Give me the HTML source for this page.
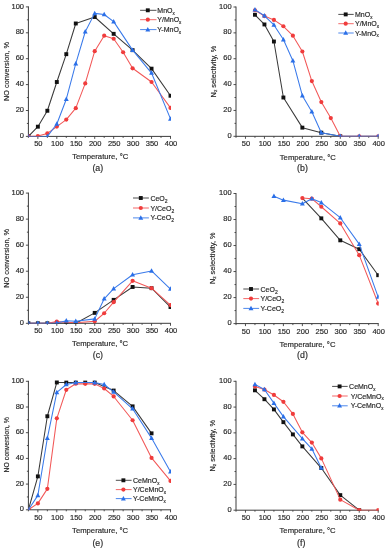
<!DOCTYPE html>
<html><head><meta charset="utf-8"><style>
html,body{margin:0;padding:0;background:#fff;}
svg{display:block;filter:blur(0.3px);}
text{stroke:#2b2b2b;stroke-width:0.18px;}
</style></head><body>
<svg width="387" height="550" viewBox="0 0 387 550" font-family='"Liberation Sans", sans-serif'>
<rect width="387" height="550" fill="#fff"/>
<path d="M28.4 6.4V136.4H171" fill="none" stroke="#3c3c3c" stroke-width="1"/>
<path d="M25.9 136.4H28.4" stroke="#3c3c3c" stroke-width="0.9"/>
<path d="M26.9 123.45H28.4" stroke="#3c3c3c" stroke-width="0.9"/>
<path d="M25.9 110.5H28.4" stroke="#3c3c3c" stroke-width="0.9"/>
<path d="M26.9 97.55H28.4" stroke="#3c3c3c" stroke-width="0.9"/>
<path d="M25.9 84.6H28.4" stroke="#3c3c3c" stroke-width="0.9"/>
<path d="M26.9 71.65H28.4" stroke="#3c3c3c" stroke-width="0.9"/>
<path d="M25.9 58.7H28.4" stroke="#3c3c3c" stroke-width="0.9"/>
<path d="M26.9 45.75H28.4" stroke="#3c3c3c" stroke-width="0.9"/>
<path d="M25.9 32.8H28.4" stroke="#3c3c3c" stroke-width="0.9"/>
<path d="M26.9 19.85H28.4" stroke="#3c3c3c" stroke-width="0.9"/>
<path d="M25.9 6.9H28.4" stroke="#3c3c3c" stroke-width="0.9"/>
<path d="M28.4 136.4V137.9" stroke="#3c3c3c" stroke-width="0.9"/>
<path d="M37.87 136.4V138.9" stroke="#3c3c3c" stroke-width="0.9"/>
<path d="M47.35 136.4V137.9" stroke="#3c3c3c" stroke-width="0.9"/>
<path d="M56.82 136.4V138.9" stroke="#3c3c3c" stroke-width="0.9"/>
<path d="M66.29 136.4V137.9" stroke="#3c3c3c" stroke-width="0.9"/>
<path d="M75.77 136.4V138.9" stroke="#3c3c3c" stroke-width="0.9"/>
<path d="M85.24 136.4V137.9" stroke="#3c3c3c" stroke-width="0.9"/>
<path d="M94.71 136.4V138.9" stroke="#3c3c3c" stroke-width="0.9"/>
<path d="M104.19 136.4V137.9" stroke="#3c3c3c" stroke-width="0.9"/>
<path d="M113.66 136.4V138.9" stroke="#3c3c3c" stroke-width="0.9"/>
<path d="M123.13 136.4V137.9" stroke="#3c3c3c" stroke-width="0.9"/>
<path d="M132.61 136.4V138.9" stroke="#3c3c3c" stroke-width="0.9"/>
<path d="M142.08 136.4V137.9" stroke="#3c3c3c" stroke-width="0.9"/>
<path d="M151.55 136.4V138.9" stroke="#3c3c3c" stroke-width="0.9"/>
<path d="M161.03 136.4V137.9" stroke="#3c3c3c" stroke-width="0.9"/>
<path d="M170.5 136.4V138.9" stroke="#3c3c3c" stroke-width="0.9"/>
<text x="24" y="138" font-size="7.5" text-anchor="end" fill="#2b2b2b">0</text>
<text x="24" y="112.1" font-size="7.5" text-anchor="end" fill="#2b2b2b">20</text>
<text x="24" y="86.2" font-size="7.5" text-anchor="end" fill="#2b2b2b">40</text>
<text x="24" y="60.3" font-size="7.5" text-anchor="end" fill="#2b2b2b">60</text>
<text x="24" y="34.4" font-size="7.5" text-anchor="end" fill="#2b2b2b">80</text>
<text x="24" y="8.5" font-size="7.5" text-anchor="end" fill="#2b2b2b">100</text>
<text x="38.37" y="146.3" font-size="7.5" text-anchor="middle" fill="#2b2b2b">50</text>
<text x="57.32" y="146.3" font-size="7.5" text-anchor="middle" fill="#2b2b2b">100</text>
<text x="76.27" y="146.3" font-size="7.5" text-anchor="middle" fill="#2b2b2b">150</text>
<text x="95.21" y="146.3" font-size="7.5" text-anchor="middle" fill="#2b2b2b">200</text>
<text x="114.16" y="146.3" font-size="7.5" text-anchor="middle" fill="#2b2b2b">250</text>
<text x="133.11" y="146.3" font-size="7.5" text-anchor="middle" fill="#2b2b2b">300</text>
<text x="152.05" y="146.3" font-size="7.5" text-anchor="middle" fill="#2b2b2b">350</text>
<text x="171" y="146.3" font-size="7.5" text-anchor="middle" fill="#2b2b2b">400</text>
<text x="100.25" y="159.1" font-size="7.7" text-anchor="middle" fill="#2b2b2b">Temperature, °C</text>
<text x="92.4" y="171.1" font-size="8.8" fill="#2b2b2b">(a)</text>
<text transform="translate(8.7 71.5) rotate(-90)" x="0" y="0" font-size="7.3" text-anchor="middle" fill="#2b2b2b">NO conversion, %</text>
<clipPath id="cpa"><rect x="28.4" y="-3.1" width="142.6" height="139.7"/></clipPath>
<g clip-path="url(#cpa)">
<path d="M28.4 136.4L37.87 126.69L47.35 110.76L56.82 82.01L66.29 54.17L75.77 23.48L94.71 17L113.66 33.84L132.61 50.15L151.55 68.67L170.5 95.74" fill="none" stroke="#3a3a3a" stroke-width="1.05" stroke-linejoin="round"/>
<rect x="26.45" y="134.45" width="3.9" height="3.9" fill="#111111"/>
<rect x="35.92" y="124.74" width="3.9" height="3.9" fill="#111111"/>
<rect x="45.4" y="108.81" width="3.9" height="3.9" fill="#111111"/>
<rect x="54.87" y="80.06" width="3.9" height="3.9" fill="#111111"/>
<rect x="64.34" y="52.22" width="3.9" height="3.9" fill="#111111"/>
<rect x="73.82" y="21.53" width="3.9" height="3.9" fill="#111111"/>
<rect x="92.76" y="15.05" width="3.9" height="3.9" fill="#111111"/>
<rect x="111.71" y="31.89" width="3.9" height="3.9" fill="#111111"/>
<rect x="130.66" y="48.2" width="3.9" height="3.9" fill="#111111"/>
<rect x="149.6" y="66.72" width="3.9" height="3.9" fill="#111111"/>
<rect x="168.55" y="93.79" width="3.9" height="3.9" fill="#111111"/>
<path d="M28.4 136.4L37.87 136.01L47.35 133.42L56.82 126.56L66.29 119.56L75.77 108.17L85.24 83.43L94.71 51.19L104.19 35.65L113.66 38.76L123.13 52.23L132.61 68.28L151.55 82.01L170.5 107.91" fill="none" stroke="#f25858" stroke-width="1.05" stroke-linejoin="round"/>
<circle cx="28.4" cy="136.4" r="2.1" fill="#f03c3c"/>
<circle cx="37.87" cy="136.01" r="2.1" fill="#f03c3c"/>
<circle cx="47.35" cy="133.42" r="2.1" fill="#f03c3c"/>
<circle cx="56.82" cy="126.56" r="2.1" fill="#f03c3c"/>
<circle cx="66.29" cy="119.56" r="2.1" fill="#f03c3c"/>
<circle cx="75.77" cy="108.17" r="2.1" fill="#f03c3c"/>
<circle cx="85.24" cy="83.43" r="2.1" fill="#f03c3c"/>
<circle cx="94.71" cy="51.19" r="2.1" fill="#f03c3c"/>
<circle cx="104.19" cy="35.65" r="2.1" fill="#f03c3c"/>
<circle cx="113.66" cy="38.76" r="2.1" fill="#f03c3c"/>
<circle cx="123.13" cy="52.23" r="2.1" fill="#f03c3c"/>
<circle cx="132.61" cy="68.28" r="2.1" fill="#f03c3c"/>
<circle cx="151.55" cy="82.01" r="2.1" fill="#f03c3c"/>
<circle cx="170.5" cy="107.91" r="2.1" fill="#f03c3c"/>
<path d="M28.4 136.4L47.35 136.4L56.82 123.97L66.29 99.23L75.77 63.62L85.24 31.76L94.71 13.38L104.19 14.54L113.66 21.66L132.61 50.15L151.55 73.07L170.5 118.92" fill="none" stroke="#3a7aea" stroke-width="1.05" stroke-linejoin="round"/>
<path d="M28.4 133.7L30.85 138.2L25.95 138.2Z" fill="#2a6fe8"/>
<path d="M47.35 133.7L49.8 138.2L44.9 138.2Z" fill="#2a6fe8"/>
<path d="M56.82 121.27L59.27 125.77L54.37 125.77Z" fill="#2a6fe8"/>
<path d="M66.29 96.53L68.74 101.03L63.84 101.03Z" fill="#2a6fe8"/>
<path d="M75.77 60.92L78.22 65.42L73.32 65.42Z" fill="#2a6fe8"/>
<path d="M85.24 29.06L87.69 33.56L82.79 33.56Z" fill="#2a6fe8"/>
<path d="M94.71 10.68L97.16 15.18L92.26 15.18Z" fill="#2a6fe8"/>
<path d="M104.19 11.84L106.64 16.34L101.74 16.34Z" fill="#2a6fe8"/>
<path d="M113.66 18.96L116.11 23.46L111.21 23.46Z" fill="#2a6fe8"/>
<path d="M132.61 47.45L135.06 51.95L130.16 51.95Z" fill="#2a6fe8"/>
<path d="M151.55 70.37L154 74.87L149.1 74.87Z" fill="#2a6fe8"/>
<path d="M170.5 116.22L172.95 120.72L168.05 120.72Z" fill="#2a6fe8"/>
</g>
<path d="M140.1 10.3H156.5" stroke="#3a3a3a" stroke-width="0.9"/>
<rect x="145.85" y="8.35" width="3.9" height="3.9" fill="#111111"/>
<text x="157.3" y="12.8" font-size="7.0" fill="#2b2b2b">MnO<tspan font-size="4.5" dy="1.8">x</tspan></text>
<path d="M140.1 19.7H156.5" stroke="#f25858" stroke-width="0.9"/>
<circle cx="147.8" cy="19.7" r="2.1" fill="#f03c3c"/>
<text x="157.3" y="22.2" font-size="7.0" fill="#2b2b2b">Y/MnO<tspan font-size="4.5" dy="1.8">x</tspan></text>
<path d="M140.1 29.6H156.5" stroke="#3a7aea" stroke-width="0.9"/>
<path d="M147.8 26.9L150.25 31.4L145.35 31.4Z" fill="#2a6fe8"/>
<text x="157.3" y="32.1" font-size="7.0" fill="#2b2b2b">Y-MnO<tspan font-size="4.5" dy="1.8">x</tspan></text>
<path d="M236 6.5V136.3H378.7" fill="none" stroke="#3c3c3c" stroke-width="1"/>
<path d="M233.5 136.3H236" stroke="#3c3c3c" stroke-width="0.9"/>
<path d="M234.5 123.37H236" stroke="#3c3c3c" stroke-width="0.9"/>
<path d="M233.5 110.44H236" stroke="#3c3c3c" stroke-width="0.9"/>
<path d="M234.5 97.51H236" stroke="#3c3c3c" stroke-width="0.9"/>
<path d="M233.5 84.58H236" stroke="#3c3c3c" stroke-width="0.9"/>
<path d="M234.5 71.65H236" stroke="#3c3c3c" stroke-width="0.9"/>
<path d="M233.5 58.72H236" stroke="#3c3c3c" stroke-width="0.9"/>
<path d="M234.5 45.79H236" stroke="#3c3c3c" stroke-width="0.9"/>
<path d="M233.5 32.86H236" stroke="#3c3c3c" stroke-width="0.9"/>
<path d="M234.5 19.93H236" stroke="#3c3c3c" stroke-width="0.9"/>
<path d="M233.5 7H236" stroke="#3c3c3c" stroke-width="0.9"/>
<path d="M236 136.3V137.8" stroke="#3c3c3c" stroke-width="0.9"/>
<path d="M245.48 136.3V138.8" stroke="#3c3c3c" stroke-width="0.9"/>
<path d="M254.96 136.3V137.8" stroke="#3c3c3c" stroke-width="0.9"/>
<path d="M264.44 136.3V138.8" stroke="#3c3c3c" stroke-width="0.9"/>
<path d="M273.92 136.3V137.8" stroke="#3c3c3c" stroke-width="0.9"/>
<path d="M283.4 136.3V138.8" stroke="#3c3c3c" stroke-width="0.9"/>
<path d="M292.88 136.3V137.8" stroke="#3c3c3c" stroke-width="0.9"/>
<path d="M302.36 136.3V138.8" stroke="#3c3c3c" stroke-width="0.9"/>
<path d="M311.84 136.3V137.8" stroke="#3c3c3c" stroke-width="0.9"/>
<path d="M321.32 136.3V138.8" stroke="#3c3c3c" stroke-width="0.9"/>
<path d="M330.8 136.3V137.8" stroke="#3c3c3c" stroke-width="0.9"/>
<path d="M340.28 136.3V138.8" stroke="#3c3c3c" stroke-width="0.9"/>
<path d="M349.76 136.3V137.8" stroke="#3c3c3c" stroke-width="0.9"/>
<path d="M359.24 136.3V138.8" stroke="#3c3c3c" stroke-width="0.9"/>
<path d="M368.72 136.3V137.8" stroke="#3c3c3c" stroke-width="0.9"/>
<path d="M378.2 136.3V138.8" stroke="#3c3c3c" stroke-width="0.9"/>
<text x="231.6" y="137.9" font-size="7.5" text-anchor="end" fill="#2b2b2b">0</text>
<text x="231.6" y="112.04" font-size="7.5" text-anchor="end" fill="#2b2b2b">20</text>
<text x="231.6" y="86.18" font-size="7.5" text-anchor="end" fill="#2b2b2b">40</text>
<text x="231.6" y="60.32" font-size="7.5" text-anchor="end" fill="#2b2b2b">60</text>
<text x="231.6" y="34.46" font-size="7.5" text-anchor="end" fill="#2b2b2b">80</text>
<text x="231.6" y="8.6" font-size="7.5" text-anchor="end" fill="#2b2b2b">100</text>
<text x="245.98" y="146.2" font-size="7.5" text-anchor="middle" fill="#2b2b2b">50</text>
<text x="264.94" y="146.2" font-size="7.5" text-anchor="middle" fill="#2b2b2b">100</text>
<text x="283.9" y="146.2" font-size="7.5" text-anchor="middle" fill="#2b2b2b">150</text>
<text x="302.86" y="146.2" font-size="7.5" text-anchor="middle" fill="#2b2b2b">200</text>
<text x="321.82" y="146.2" font-size="7.5" text-anchor="middle" fill="#2b2b2b">250</text>
<text x="340.78" y="146.2" font-size="7.5" text-anchor="middle" fill="#2b2b2b">300</text>
<text x="359.74" y="146.2" font-size="7.5" text-anchor="middle" fill="#2b2b2b">350</text>
<text x="378.7" y="146.2" font-size="7.5" text-anchor="middle" fill="#2b2b2b">400</text>
<text x="307.8" y="159.6" font-size="7.7" text-anchor="middle" fill="#2b2b2b">Temperature, °C</text>
<text x="297.1" y="171.4" font-size="8.8" fill="#2b2b2b">(b)</text>
<text transform="translate(216.3 71.6) rotate(-90)" x="0" y="0" font-size="7.35" text-anchor="middle" fill="#2b2b2b">N<tspan font-size="4.2" dy="0.4">2</tspan><tspan dy="-0.4"> selectivity, %</tspan></text>
<clipPath id="cpb"><rect x="236" y="-3" width="142.7" height="139.5"/></clipPath>
<g clip-path="url(#cpb)">
<path d="M254.96 14.76L264.44 24.46L273.92 41.52L283.4 97.51L302.36 127.64L321.32 132.68L340.28 136.3" fill="none" stroke="#3a3a3a" stroke-width="1.05" stroke-linejoin="round"/>
<rect x="253.01" y="12.81" width="3.9" height="3.9" fill="#111111"/>
<rect x="262.49" y="22.51" width="3.9" height="3.9" fill="#111111"/>
<rect x="271.97" y="39.57" width="3.9" height="3.9" fill="#111111"/>
<rect x="281.45" y="95.56" width="3.9" height="3.9" fill="#111111"/>
<rect x="300.41" y="125.69" width="3.9" height="3.9" fill="#111111"/>
<rect x="319.37" y="130.73" width="3.9" height="3.9" fill="#111111"/>
<rect x="338.33" y="134.35" width="3.9" height="3.9" fill="#111111"/>
<path d="M254.96 10.23L264.44 16.05L273.92 19.93L283.4 26.27L292.88 35.7L302.36 51.48L311.84 81.09L321.32 102.04L330.8 118.07L340.28 136.3L359.24 136.3L378.2 136.3" fill="none" stroke="#f25858" stroke-width="1.05" stroke-linejoin="round"/>
<circle cx="254.96" cy="10.23" r="2.1" fill="#f03c3c"/>
<circle cx="264.44" cy="16.05" r="2.1" fill="#f03c3c"/>
<circle cx="273.92" cy="19.93" r="2.1" fill="#f03c3c"/>
<circle cx="283.4" cy="26.27" r="2.1" fill="#f03c3c"/>
<circle cx="292.88" cy="35.7" r="2.1" fill="#f03c3c"/>
<circle cx="302.36" cy="51.48" r="2.1" fill="#f03c3c"/>
<circle cx="311.84" cy="81.09" r="2.1" fill="#f03c3c"/>
<circle cx="321.32" cy="102.04" r="2.1" fill="#f03c3c"/>
<circle cx="330.8" cy="118.07" r="2.1" fill="#f03c3c"/>
<circle cx="340.28" cy="136.3" r="2.1" fill="#f03c3c"/>
<circle cx="359.24" cy="136.3" r="2.1" fill="#f03c3c"/>
<circle cx="378.2" cy="136.3" r="2.1" fill="#f03c3c"/>
<path d="M254.96 9.59L264.44 15.79L273.92 24.97L283.4 39.58L292.88 60.66L302.36 95.7L311.84 111.73L321.32 132.68L340.28 136.3L359.24 136.3L378.2 136.3" fill="none" stroke="#3a7aea" stroke-width="1.05" stroke-linejoin="round"/>
<path d="M254.96 6.89L257.41 11.39L252.51 11.39Z" fill="#2a6fe8"/>
<path d="M264.44 13.09L266.89 17.59L261.99 17.59Z" fill="#2a6fe8"/>
<path d="M273.92 22.27L276.37 26.77L271.47 26.77Z" fill="#2a6fe8"/>
<path d="M283.4 36.88L285.85 41.38L280.95 41.38Z" fill="#2a6fe8"/>
<path d="M292.88 57.96L295.33 62.46L290.43 62.46Z" fill="#2a6fe8"/>
<path d="M302.36 93L304.81 97.5L299.91 97.5Z" fill="#2a6fe8"/>
<path d="M311.84 109.03L314.29 113.53L309.39 113.53Z" fill="#2a6fe8"/>
<path d="M321.32 129.98L323.77 134.48L318.87 134.48Z" fill="#2a6fe8"/>
<path d="M340.28 133.6L342.73 138.1L337.83 138.1Z" fill="#2a6fe8"/>
<path d="M359.24 133.6L361.69 138.1L356.79 138.1Z" fill="#2a6fe8"/>
<path d="M378.2 133.6L380.65 138.1L375.75 138.1Z" fill="#2a6fe8"/>
</g>
<path d="M338.3 14.4H353.7" stroke="#3a3a3a" stroke-width="0.9"/>
<rect x="343.75" y="12.45" width="3.9" height="3.9" fill="#111111"/>
<text x="355" y="16.9" font-size="7.0" fill="#2b2b2b">MnO<tspan font-size="4.5" dy="1.8">x</tspan></text>
<path d="M338.3 23.7H353.7" stroke="#f25858" stroke-width="0.9"/>
<circle cx="345.7" cy="23.7" r="2.1" fill="#f03c3c"/>
<text x="355" y="26.2" font-size="7.0" fill="#2b2b2b">Y/MnO<tspan font-size="4.5" dy="1.8">x</tspan></text>
<path d="M338.3 33H353.7" stroke="#3a7aea" stroke-width="0.9"/>
<path d="M345.7 30.3L348.15 34.8L343.25 34.8Z" fill="#2a6fe8"/>
<text x="355" y="35.5" font-size="7.0" fill="#2b2b2b">Y-MnO<tspan font-size="4.5" dy="1.8">x</tspan></text>
<path d="M28.4 192.6V323.3H171" fill="none" stroke="#3c3c3c" stroke-width="1"/>
<path d="M25.9 323.3H28.4" stroke="#3c3c3c" stroke-width="0.9"/>
<path d="M26.9 310.28H28.4" stroke="#3c3c3c" stroke-width="0.9"/>
<path d="M25.9 297.26H28.4" stroke="#3c3c3c" stroke-width="0.9"/>
<path d="M26.9 284.24H28.4" stroke="#3c3c3c" stroke-width="0.9"/>
<path d="M25.9 271.22H28.4" stroke="#3c3c3c" stroke-width="0.9"/>
<path d="M26.9 258.2H28.4" stroke="#3c3c3c" stroke-width="0.9"/>
<path d="M25.9 245.18H28.4" stroke="#3c3c3c" stroke-width="0.9"/>
<path d="M26.9 232.16H28.4" stroke="#3c3c3c" stroke-width="0.9"/>
<path d="M25.9 219.14H28.4" stroke="#3c3c3c" stroke-width="0.9"/>
<path d="M26.9 206.12H28.4" stroke="#3c3c3c" stroke-width="0.9"/>
<path d="M25.9 193.1H28.4" stroke="#3c3c3c" stroke-width="0.9"/>
<path d="M28.4 323.3V324.8" stroke="#3c3c3c" stroke-width="0.9"/>
<path d="M37.87 323.3V325.8" stroke="#3c3c3c" stroke-width="0.9"/>
<path d="M47.35 323.3V324.8" stroke="#3c3c3c" stroke-width="0.9"/>
<path d="M56.82 323.3V325.8" stroke="#3c3c3c" stroke-width="0.9"/>
<path d="M66.29 323.3V324.8" stroke="#3c3c3c" stroke-width="0.9"/>
<path d="M75.77 323.3V325.8" stroke="#3c3c3c" stroke-width="0.9"/>
<path d="M85.24 323.3V324.8" stroke="#3c3c3c" stroke-width="0.9"/>
<path d="M94.71 323.3V325.8" stroke="#3c3c3c" stroke-width="0.9"/>
<path d="M104.19 323.3V324.8" stroke="#3c3c3c" stroke-width="0.9"/>
<path d="M113.66 323.3V325.8" stroke="#3c3c3c" stroke-width="0.9"/>
<path d="M123.13 323.3V324.8" stroke="#3c3c3c" stroke-width="0.9"/>
<path d="M132.61 323.3V325.8" stroke="#3c3c3c" stroke-width="0.9"/>
<path d="M142.08 323.3V324.8" stroke="#3c3c3c" stroke-width="0.9"/>
<path d="M151.55 323.3V325.8" stroke="#3c3c3c" stroke-width="0.9"/>
<path d="M161.03 323.3V324.8" stroke="#3c3c3c" stroke-width="0.9"/>
<path d="M170.5 323.3V325.8" stroke="#3c3c3c" stroke-width="0.9"/>
<text x="24" y="324.9" font-size="7.5" text-anchor="end" fill="#2b2b2b">0</text>
<text x="24" y="298.86" font-size="7.5" text-anchor="end" fill="#2b2b2b">20</text>
<text x="24" y="272.82" font-size="7.5" text-anchor="end" fill="#2b2b2b">40</text>
<text x="24" y="246.78" font-size="7.5" text-anchor="end" fill="#2b2b2b">60</text>
<text x="24" y="220.74" font-size="7.5" text-anchor="end" fill="#2b2b2b">80</text>
<text x="24" y="194.7" font-size="7.5" text-anchor="end" fill="#2b2b2b">100</text>
<text x="38.37" y="333.2" font-size="7.5" text-anchor="middle" fill="#2b2b2b">50</text>
<text x="57.32" y="333.2" font-size="7.5" text-anchor="middle" fill="#2b2b2b">100</text>
<text x="76.27" y="333.2" font-size="7.5" text-anchor="middle" fill="#2b2b2b">150</text>
<text x="95.21" y="333.2" font-size="7.5" text-anchor="middle" fill="#2b2b2b">200</text>
<text x="114.16" y="333.2" font-size="7.5" text-anchor="middle" fill="#2b2b2b">250</text>
<text x="133.11" y="333.2" font-size="7.5" text-anchor="middle" fill="#2b2b2b">300</text>
<text x="152.05" y="333.2" font-size="7.5" text-anchor="middle" fill="#2b2b2b">350</text>
<text x="171" y="333.2" font-size="7.5" text-anchor="middle" fill="#2b2b2b">400</text>
<text x="100.1" y="346.2" font-size="7.7" text-anchor="middle" fill="#2b2b2b">Temperature, °C</text>
<text x="92.75" y="358.2" font-size="8.8" fill="#2b2b2b">(c)</text>
<text transform="translate(8.7 258.3) rotate(-90)" x="0" y="0" font-size="7.3" text-anchor="middle" fill="#2b2b2b">NO conversion, %</text>
<clipPath id="cpc"><rect x="28.4" y="183.1" width="142.6" height="140.4"/></clipPath>
<g clip-path="url(#cpc)">
<path d="M28.4 323.3L37.87 323.3L47.35 323.3L56.82 323.3L66.29 323.3L75.77 323.3L94.71 312.88L113.66 299.86L132.61 286.97L151.55 288.15L170.5 307.03" fill="none" stroke="#3a3a3a" stroke-width="1.05" stroke-linejoin="round"/>
<rect x="26.45" y="321.35" width="3.9" height="3.9" fill="#111111"/>
<rect x="35.92" y="321.35" width="3.9" height="3.9" fill="#111111"/>
<rect x="45.4" y="321.35" width="3.9" height="3.9" fill="#111111"/>
<rect x="54.87" y="321.35" width="3.9" height="3.9" fill="#111111"/>
<rect x="64.34" y="321.35" width="3.9" height="3.9" fill="#111111"/>
<rect x="73.82" y="321.35" width="3.9" height="3.9" fill="#111111"/>
<rect x="92.76" y="310.93" width="3.9" height="3.9" fill="#111111"/>
<rect x="111.71" y="297.91" width="3.9" height="3.9" fill="#111111"/>
<rect x="130.66" y="285.02" width="3.9" height="3.9" fill="#111111"/>
<rect x="149.6" y="286.2" width="3.9" height="3.9" fill="#111111"/>
<rect x="168.55" y="305.08" width="3.9" height="3.9" fill="#111111"/>
<path d="M28.4 323.3L37.87 323.3L47.35 323.3L56.82 321.61L66.29 322.26L75.77 322.65L94.71 321.35L104.19 313.27L113.66 302.21L132.61 280.85L151.55 288.15L170.5 305.07" fill="none" stroke="#f25858" stroke-width="1.05" stroke-linejoin="round"/>
<circle cx="56.82" cy="321.61" r="2.1" fill="#f03c3c"/>
<circle cx="94.71" cy="321.35" r="2.1" fill="#f03c3c"/>
<circle cx="104.19" cy="313.27" r="2.1" fill="#f03c3c"/>
<circle cx="113.66" cy="302.21" r="2.1" fill="#f03c3c"/>
<circle cx="132.61" cy="280.85" r="2.1" fill="#f03c3c"/>
<circle cx="151.55" cy="288.15" r="2.1" fill="#f03c3c"/>
<circle cx="170.5" cy="305.07" r="2.1" fill="#f03c3c"/>
<path d="M28.4 323.3L37.87 323.3L47.35 323.3L56.82 322.91L66.29 320.7L75.77 321.22L94.71 318.87L104.19 298.82L113.66 288.67L132.61 274.74L151.55 270.96L170.5 289.06" fill="none" stroke="#3a7aea" stroke-width="1.05" stroke-linejoin="round"/>
<path d="M28.4 320.6L30.85 325.1L25.95 325.1Z" fill="#2a6fe8"/>
<path d="M37.87 320.6L40.32 325.1L35.42 325.1Z" fill="#2a6fe8"/>
<path d="M47.35 320.6L49.8 325.1L44.9 325.1Z" fill="#2a6fe8"/>
<path d="M56.82 320.21L59.27 324.71L54.37 324.71Z" fill="#2a6fe8"/>
<path d="M66.29 318L68.74 322.5L63.84 322.5Z" fill="#2a6fe8"/>
<path d="M75.77 318.52L78.22 323.02L73.32 323.02Z" fill="#2a6fe8"/>
<path d="M94.71 316.17L97.16 320.67L92.26 320.67Z" fill="#2a6fe8"/>
<path d="M104.19 296.12L106.64 300.62L101.74 300.62Z" fill="#2a6fe8"/>
<path d="M113.66 285.97L116.11 290.47L111.21 290.47Z" fill="#2a6fe8"/>
<path d="M132.61 272.04L135.06 276.54L130.16 276.54Z" fill="#2a6fe8"/>
<path d="M151.55 268.26L154 272.76L149.1 272.76Z" fill="#2a6fe8"/>
<path d="M170.5 286.36L172.95 290.86L168.05 290.86Z" fill="#2a6fe8"/>
</g>
<path d="M133 198H148.9" stroke="#3a3a3a" stroke-width="0.9"/>
<rect x="138.85" y="196.05" width="3.9" height="3.9" fill="#111111"/>
<text x="150.4" y="200.5" font-size="7.0" fill="#2b2b2b">CeO<tspan font-size="5" dy="2">2</tspan></text>
<path d="M133 208H148.9" stroke="#f25858" stroke-width="0.9"/>
<circle cx="140.8" cy="208" r="2.1" fill="#f03c3c"/>
<text x="150.4" y="210.5" font-size="7.0" fill="#2b2b2b">Y/CeO<tspan font-size="5" dy="2">2</tspan></text>
<path d="M133 217.9H148.9" stroke="#3a7aea" stroke-width="0.9"/>
<path d="M140.8 215.2L143.25 219.7L138.35 219.7Z" fill="#2a6fe8"/>
<text x="150.4" y="220.4" font-size="7.0" fill="#2b2b2b">Y-CeO<tspan font-size="5" dy="2">2</tspan></text>
<path d="M236 193V323.6H378.7" fill="none" stroke="#3c3c3c" stroke-width="1"/>
<path d="M233.5 323.6H236" stroke="#3c3c3c" stroke-width="0.9"/>
<path d="M234.5 310.59H236" stroke="#3c3c3c" stroke-width="0.9"/>
<path d="M233.5 297.58H236" stroke="#3c3c3c" stroke-width="0.9"/>
<path d="M234.5 284.57H236" stroke="#3c3c3c" stroke-width="0.9"/>
<path d="M233.5 271.56H236" stroke="#3c3c3c" stroke-width="0.9"/>
<path d="M234.5 258.55H236" stroke="#3c3c3c" stroke-width="0.9"/>
<path d="M233.5 245.54H236" stroke="#3c3c3c" stroke-width="0.9"/>
<path d="M234.5 232.53H236" stroke="#3c3c3c" stroke-width="0.9"/>
<path d="M233.5 219.52H236" stroke="#3c3c3c" stroke-width="0.9"/>
<path d="M234.5 206.51H236" stroke="#3c3c3c" stroke-width="0.9"/>
<path d="M233.5 193.5H236" stroke="#3c3c3c" stroke-width="0.9"/>
<path d="M236 323.6V325.1" stroke="#3c3c3c" stroke-width="0.9"/>
<path d="M245.48 323.6V326.1" stroke="#3c3c3c" stroke-width="0.9"/>
<path d="M254.96 323.6V325.1" stroke="#3c3c3c" stroke-width="0.9"/>
<path d="M264.44 323.6V326.1" stroke="#3c3c3c" stroke-width="0.9"/>
<path d="M273.92 323.6V325.1" stroke="#3c3c3c" stroke-width="0.9"/>
<path d="M283.4 323.6V326.1" stroke="#3c3c3c" stroke-width="0.9"/>
<path d="M292.88 323.6V325.1" stroke="#3c3c3c" stroke-width="0.9"/>
<path d="M302.36 323.6V326.1" stroke="#3c3c3c" stroke-width="0.9"/>
<path d="M311.84 323.6V325.1" stroke="#3c3c3c" stroke-width="0.9"/>
<path d="M321.32 323.6V326.1" stroke="#3c3c3c" stroke-width="0.9"/>
<path d="M330.8 323.6V325.1" stroke="#3c3c3c" stroke-width="0.9"/>
<path d="M340.28 323.6V326.1" stroke="#3c3c3c" stroke-width="0.9"/>
<path d="M349.76 323.6V325.1" stroke="#3c3c3c" stroke-width="0.9"/>
<path d="M359.24 323.6V326.1" stroke="#3c3c3c" stroke-width="0.9"/>
<path d="M368.72 323.6V325.1" stroke="#3c3c3c" stroke-width="0.9"/>
<path d="M378.2 323.6V326.1" stroke="#3c3c3c" stroke-width="0.9"/>
<text x="231.6" y="325.2" font-size="7.5" text-anchor="end" fill="#2b2b2b">0</text>
<text x="231.6" y="299.18" font-size="7.5" text-anchor="end" fill="#2b2b2b">20</text>
<text x="231.6" y="273.16" font-size="7.5" text-anchor="end" fill="#2b2b2b">40</text>
<text x="231.6" y="247.14" font-size="7.5" text-anchor="end" fill="#2b2b2b">60</text>
<text x="231.6" y="221.12" font-size="7.5" text-anchor="end" fill="#2b2b2b">80</text>
<text x="231.6" y="195.1" font-size="7.5" text-anchor="end" fill="#2b2b2b">100</text>
<text x="245.98" y="333.5" font-size="7.5" text-anchor="middle" fill="#2b2b2b">50</text>
<text x="264.94" y="333.5" font-size="7.5" text-anchor="middle" fill="#2b2b2b">100</text>
<text x="283.9" y="333.5" font-size="7.5" text-anchor="middle" fill="#2b2b2b">150</text>
<text x="302.86" y="333.5" font-size="7.5" text-anchor="middle" fill="#2b2b2b">200</text>
<text x="321.82" y="333.5" font-size="7.5" text-anchor="middle" fill="#2b2b2b">250</text>
<text x="340.78" y="333.5" font-size="7.5" text-anchor="middle" fill="#2b2b2b">300</text>
<text x="359.74" y="333.5" font-size="7.5" text-anchor="middle" fill="#2b2b2b">350</text>
<text x="378.7" y="333.5" font-size="7.5" text-anchor="middle" fill="#2b2b2b">400</text>
<text x="307.45" y="346.5" font-size="7.7" text-anchor="middle" fill="#2b2b2b">Temperature, °C</text>
<text x="297.1" y="357.9" font-size="8.8" fill="#2b2b2b">(d)</text>
<text transform="translate(215.1 258.3) rotate(-90)" x="0" y="0" font-size="7.35" text-anchor="middle" fill="#2b2b2b">N<tspan font-size="4.2" dy="0.4">2</tspan><tspan dy="-0.4"> selectivity, %</tspan></text>
<clipPath id="cpd"><rect x="236" y="183.5" width="142.7" height="140.3"/></clipPath>
<g clip-path="url(#cpd)">
<path d="M302.36 198.05L321.32 218.35L340.28 240.34L359.24 249.18L378.2 275.2" fill="none" stroke="#3a3a3a" stroke-width="1.05" stroke-linejoin="round"/>
<rect x="319.37" y="216.4" width="3.9" height="3.9" fill="#111111"/>
<rect x="338.33" y="238.39" width="3.9" height="3.9" fill="#111111"/>
<rect x="357.29" y="247.23" width="3.9" height="3.9" fill="#111111"/>
<rect x="376.25" y="273.25" width="3.9" height="3.9" fill="#111111"/>
<path d="M302.36 198.05L311.84 198.7L321.32 206.77L340.28 223.42L359.24 255.17L378.2 303.56" fill="none" stroke="#f25858" stroke-width="1.05" stroke-linejoin="round"/>
<circle cx="302.36" cy="198.05" r="2.1" fill="#f03c3c"/>
<circle cx="311.84" cy="198.7" r="2.1" fill="#f03c3c"/>
<circle cx="321.32" cy="206.77" r="2.1" fill="#f03c3c"/>
<circle cx="340.28" cy="223.42" r="2.1" fill="#f03c3c"/>
<circle cx="359.24" cy="255.17" r="2.1" fill="#f03c3c"/>
<circle cx="378.2" cy="303.56" r="2.1" fill="#f03c3c"/>
<path d="M273.92 196.23L283.4 200.14L302.36 203.78L311.84 198.7L321.32 202.61L340.28 217.7L359.24 244.11L378.2 297.06" fill="none" stroke="#3a7aea" stroke-width="1.05" stroke-linejoin="round"/>
<path d="M273.92 193.53L276.37 198.03L271.47 198.03Z" fill="#2a6fe8"/>
<path d="M283.4 197.44L285.85 201.94L280.95 201.94Z" fill="#2a6fe8"/>
<path d="M302.36 201.08L304.81 205.58L299.91 205.58Z" fill="#2a6fe8"/>
<path d="M311.84 196L314.29 200.5L309.39 200.5Z" fill="#2a6fe8"/>
<path d="M321.32 199.91L323.77 204.41L318.87 204.41Z" fill="#2a6fe8"/>
<path d="M340.28 215L342.73 219.5L337.83 219.5Z" fill="#2a6fe8"/>
<path d="M359.24 241.41L361.69 245.91L356.79 245.91Z" fill="#2a6fe8"/>
<path d="M378.2 294.36L380.65 298.86L375.75 298.86Z" fill="#2a6fe8"/>
</g>
<path d="M243.3 289H259.1" stroke="#3a3a3a" stroke-width="0.9"/>
<rect x="249.05" y="287.05" width="3.9" height="3.9" fill="#111111"/>
<text x="260.5" y="291.5" font-size="7.0" fill="#2b2b2b">CeO<tspan font-size="5" dy="2">2</tspan></text>
<path d="M243.3 298.6H259.1" stroke="#f25858" stroke-width="0.9"/>
<circle cx="251" cy="298.6" r="2.1" fill="#f03c3c"/>
<text x="260.5" y="301.1" font-size="7.0" fill="#2b2b2b">Y/CeO<tspan font-size="5" dy="2">2</tspan></text>
<path d="M243.3 308.4H259.1" stroke="#3a7aea" stroke-width="0.9"/>
<path d="M251 305.7L253.45 310.2L248.55 310.2Z" fill="#2a6fe8"/>
<text x="260.5" y="310.9" font-size="7.0" fill="#2b2b2b">Y-CeO<tspan font-size="5" dy="2">2</tspan></text>
<path d="M28.4 380.8V509.8H171" fill="none" stroke="#3c3c3c" stroke-width="1"/>
<path d="M25.9 509.8H28.4" stroke="#3c3c3c" stroke-width="0.9"/>
<path d="M26.9 496.95H28.4" stroke="#3c3c3c" stroke-width="0.9"/>
<path d="M25.9 484.1H28.4" stroke="#3c3c3c" stroke-width="0.9"/>
<path d="M26.9 471.25H28.4" stroke="#3c3c3c" stroke-width="0.9"/>
<path d="M25.9 458.4H28.4" stroke="#3c3c3c" stroke-width="0.9"/>
<path d="M26.9 445.55H28.4" stroke="#3c3c3c" stroke-width="0.9"/>
<path d="M25.9 432.7H28.4" stroke="#3c3c3c" stroke-width="0.9"/>
<path d="M26.9 419.85H28.4" stroke="#3c3c3c" stroke-width="0.9"/>
<path d="M25.9 407H28.4" stroke="#3c3c3c" stroke-width="0.9"/>
<path d="M26.9 394.15H28.4" stroke="#3c3c3c" stroke-width="0.9"/>
<path d="M25.9 381.3H28.4" stroke="#3c3c3c" stroke-width="0.9"/>
<path d="M28.4 509.8V511.3" stroke="#3c3c3c" stroke-width="0.9"/>
<path d="M37.87 509.8V512.3" stroke="#3c3c3c" stroke-width="0.9"/>
<path d="M47.35 509.8V511.3" stroke="#3c3c3c" stroke-width="0.9"/>
<path d="M56.82 509.8V512.3" stroke="#3c3c3c" stroke-width="0.9"/>
<path d="M66.29 509.8V511.3" stroke="#3c3c3c" stroke-width="0.9"/>
<path d="M75.77 509.8V512.3" stroke="#3c3c3c" stroke-width="0.9"/>
<path d="M85.24 509.8V511.3" stroke="#3c3c3c" stroke-width="0.9"/>
<path d="M94.71 509.8V512.3" stroke="#3c3c3c" stroke-width="0.9"/>
<path d="M104.19 509.8V511.3" stroke="#3c3c3c" stroke-width="0.9"/>
<path d="M113.66 509.8V512.3" stroke="#3c3c3c" stroke-width="0.9"/>
<path d="M123.13 509.8V511.3" stroke="#3c3c3c" stroke-width="0.9"/>
<path d="M132.61 509.8V512.3" stroke="#3c3c3c" stroke-width="0.9"/>
<path d="M142.08 509.8V511.3" stroke="#3c3c3c" stroke-width="0.9"/>
<path d="M151.55 509.8V512.3" stroke="#3c3c3c" stroke-width="0.9"/>
<path d="M161.03 509.8V511.3" stroke="#3c3c3c" stroke-width="0.9"/>
<path d="M170.5 509.8V512.3" stroke="#3c3c3c" stroke-width="0.9"/>
<text x="24" y="511.4" font-size="7.5" text-anchor="end" fill="#2b2b2b">0</text>
<text x="24" y="485.7" font-size="7.5" text-anchor="end" fill="#2b2b2b">20</text>
<text x="24" y="460" font-size="7.5" text-anchor="end" fill="#2b2b2b">40</text>
<text x="24" y="434.3" font-size="7.5" text-anchor="end" fill="#2b2b2b">60</text>
<text x="24" y="408.6" font-size="7.5" text-anchor="end" fill="#2b2b2b">80</text>
<text x="24" y="382.9" font-size="7.5" text-anchor="end" fill="#2b2b2b">100</text>
<text x="38.37" y="519.7" font-size="7.5" text-anchor="middle" fill="#2b2b2b">50</text>
<text x="57.32" y="519.7" font-size="7.5" text-anchor="middle" fill="#2b2b2b">100</text>
<text x="76.27" y="519.7" font-size="7.5" text-anchor="middle" fill="#2b2b2b">150</text>
<text x="95.21" y="519.7" font-size="7.5" text-anchor="middle" fill="#2b2b2b">200</text>
<text x="114.16" y="519.7" font-size="7.5" text-anchor="middle" fill="#2b2b2b">250</text>
<text x="133.11" y="519.7" font-size="7.5" text-anchor="middle" fill="#2b2b2b">300</text>
<text x="152.05" y="519.7" font-size="7.5" text-anchor="middle" fill="#2b2b2b">350</text>
<text x="171" y="519.7" font-size="7.5" text-anchor="middle" fill="#2b2b2b">400</text>
<text x="100.1" y="533.4" font-size="7.7" text-anchor="middle" fill="#2b2b2b">Temperature, °C</text>
<text x="92.4" y="546.1" font-size="8.8" fill="#2b2b2b">(e)</text>
<text transform="translate(8.7 444.8) rotate(-90)" x="0" y="0" font-size="6.9" text-anchor="middle" fill="#2b2b2b">NO conversion, %</text>
<clipPath id="cpe"><rect x="28.4" y="371.3" width="142.6" height="138.7"/></clipPath>
<g clip-path="url(#cpe)">
<path d="M28.4 509.8L37.87 476.39L47.35 416.25L56.82 382.46L66.29 382.59L75.77 382.59L85.24 382.59L94.71 382.59L113.66 390.55L132.61 406.36L151.55 433.34" fill="none" stroke="#3a3a3a" stroke-width="1.05" stroke-linejoin="round"/>
<rect x="26.45" y="507.85" width="3.9" height="3.9" fill="#111111"/>
<rect x="35.92" y="474.44" width="3.9" height="3.9" fill="#111111"/>
<rect x="45.4" y="414.3" width="3.9" height="3.9" fill="#111111"/>
<rect x="54.87" y="380.51" width="3.9" height="3.9" fill="#111111"/>
<rect x="64.34" y="380.64" width="3.9" height="3.9" fill="#111111"/>
<rect x="73.82" y="380.64" width="3.9" height="3.9" fill="#111111"/>
<rect x="83.29" y="380.64" width="3.9" height="3.9" fill="#111111"/>
<rect x="92.76" y="380.64" width="3.9" height="3.9" fill="#111111"/>
<rect x="111.71" y="388.6" width="3.9" height="3.9" fill="#111111"/>
<rect x="130.66" y="404.41" width="3.9" height="3.9" fill="#111111"/>
<rect x="149.6" y="431.39" width="3.9" height="3.9" fill="#111111"/>
<path d="M28.4 509.8L37.87 503.38L47.35 488.85L56.82 418.31L66.29 389.78L75.77 383.74L85.24 383.87L94.71 383.87L104.19 388.5L113.66 396.46L132.61 420.24L151.55 457.89L170.5 480.89" fill="none" stroke="#f25858" stroke-width="1.05" stroke-linejoin="round"/>
<circle cx="28.4" cy="509.8" r="2.1" fill="#f03c3c"/>
<circle cx="37.87" cy="503.38" r="2.1" fill="#f03c3c"/>
<circle cx="47.35" cy="488.85" r="2.1" fill="#f03c3c"/>
<circle cx="56.82" cy="418.31" r="2.1" fill="#f03c3c"/>
<circle cx="66.29" cy="389.78" r="2.1" fill="#f03c3c"/>
<circle cx="75.77" cy="383.74" r="2.1" fill="#f03c3c"/>
<circle cx="85.24" cy="383.87" r="2.1" fill="#f03c3c"/>
<circle cx="94.71" cy="383.87" r="2.1" fill="#f03c3c"/>
<circle cx="104.19" cy="388.5" r="2.1" fill="#f03c3c"/>
<circle cx="113.66" cy="396.46" r="2.1" fill="#f03c3c"/>
<circle cx="132.61" cy="420.24" r="2.1" fill="#f03c3c"/>
<circle cx="151.55" cy="457.89" r="2.1" fill="#f03c3c"/>
<circle cx="170.5" cy="480.89" r="2.1" fill="#f03c3c"/>
<path d="M28.4 509.8L37.87 495.41L47.35 438.1L56.82 392.35L66.29 384.51L75.77 382.59L94.71 382.59L104.19 384.51L113.66 391.84L132.61 408.8L151.55 438.1L170.5 471.64" fill="none" stroke="#3a7aea" stroke-width="1.05" stroke-linejoin="round"/>
<path d="M28.4 507.1L30.85 511.6L25.95 511.6Z" fill="#2a6fe8"/>
<path d="M37.87 492.71L40.32 497.21L35.42 497.21Z" fill="#2a6fe8"/>
<path d="M47.35 435.4L49.8 439.9L44.9 439.9Z" fill="#2a6fe8"/>
<path d="M56.82 389.65L59.27 394.15L54.37 394.15Z" fill="#2a6fe8"/>
<path d="M66.29 381.81L68.74 386.31L63.84 386.31Z" fill="#2a6fe8"/>
<path d="M75.77 379.89L78.22 384.39L73.32 384.39Z" fill="#2a6fe8"/>
<path d="M94.71 379.89L97.16 384.39L92.26 384.39Z" fill="#2a6fe8"/>
<path d="M104.19 381.81L106.64 386.31L101.74 386.31Z" fill="#2a6fe8"/>
<path d="M113.66 389.14L116.11 393.64L111.21 393.64Z" fill="#2a6fe8"/>
<path d="M132.61 406.1L135.06 410.6L130.16 410.6Z" fill="#2a6fe8"/>
<path d="M151.55 435.4L154 439.9L149.1 439.9Z" fill="#2a6fe8"/>
<path d="M170.5 468.94L172.95 473.44L168.05 473.44Z" fill="#2a6fe8"/>
</g>
<path d="M115.8 480.3H131.6" stroke="#3a3a3a" stroke-width="0.9"/>
<rect x="121.45" y="478.35" width="3.9" height="3.9" fill="#111111"/>
<text x="133" y="482.8" font-size="7.0" fill="#2b2b2b">CeMnO<tspan font-size="4.5" dy="1.8">x</tspan></text>
<path d="M115.8 489.6H131.6" stroke="#f25858" stroke-width="0.9"/>
<circle cx="123.4" cy="489.6" r="2.1" fill="#f03c3c"/>
<text x="133" y="492.1" font-size="7.0" fill="#2b2b2b">Y/CeMnO<tspan font-size="4.5" dy="1.8">x</tspan></text>
<path d="M115.8 498.6H131.6" stroke="#3a7aea" stroke-width="0.9"/>
<path d="M123.4 495.9L125.85 500.4L120.95 500.4Z" fill="#2a6fe8"/>
<text x="133" y="501.1" font-size="7.0" fill="#2b2b2b">Y-CeMnO<tspan font-size="4.5" dy="1.8">x</tspan></text>
<path d="M236 380.8V510.2H378.7" fill="none" stroke="#3c3c3c" stroke-width="1"/>
<path d="M233.5 510.2H236" stroke="#3c3c3c" stroke-width="0.9"/>
<path d="M234.5 497.31H236" stroke="#3c3c3c" stroke-width="0.9"/>
<path d="M233.5 484.42H236" stroke="#3c3c3c" stroke-width="0.9"/>
<path d="M234.5 471.53H236" stroke="#3c3c3c" stroke-width="0.9"/>
<path d="M233.5 458.64H236" stroke="#3c3c3c" stroke-width="0.9"/>
<path d="M234.5 445.75H236" stroke="#3c3c3c" stroke-width="0.9"/>
<path d="M233.5 432.86H236" stroke="#3c3c3c" stroke-width="0.9"/>
<path d="M234.5 419.97H236" stroke="#3c3c3c" stroke-width="0.9"/>
<path d="M233.5 407.08H236" stroke="#3c3c3c" stroke-width="0.9"/>
<path d="M234.5 394.19H236" stroke="#3c3c3c" stroke-width="0.9"/>
<path d="M233.5 381.3H236" stroke="#3c3c3c" stroke-width="0.9"/>
<path d="M236 510.2V511.7" stroke="#3c3c3c" stroke-width="0.9"/>
<path d="M245.48 510.2V512.7" stroke="#3c3c3c" stroke-width="0.9"/>
<path d="M254.96 510.2V511.7" stroke="#3c3c3c" stroke-width="0.9"/>
<path d="M264.44 510.2V512.7" stroke="#3c3c3c" stroke-width="0.9"/>
<path d="M273.92 510.2V511.7" stroke="#3c3c3c" stroke-width="0.9"/>
<path d="M283.4 510.2V512.7" stroke="#3c3c3c" stroke-width="0.9"/>
<path d="M292.88 510.2V511.7" stroke="#3c3c3c" stroke-width="0.9"/>
<path d="M302.36 510.2V512.7" stroke="#3c3c3c" stroke-width="0.9"/>
<path d="M311.84 510.2V511.7" stroke="#3c3c3c" stroke-width="0.9"/>
<path d="M321.32 510.2V512.7" stroke="#3c3c3c" stroke-width="0.9"/>
<path d="M330.8 510.2V511.7" stroke="#3c3c3c" stroke-width="0.9"/>
<path d="M340.28 510.2V512.7" stroke="#3c3c3c" stroke-width="0.9"/>
<path d="M349.76 510.2V511.7" stroke="#3c3c3c" stroke-width="0.9"/>
<path d="M359.24 510.2V512.7" stroke="#3c3c3c" stroke-width="0.9"/>
<path d="M368.72 510.2V511.7" stroke="#3c3c3c" stroke-width="0.9"/>
<path d="M378.2 510.2V512.7" stroke="#3c3c3c" stroke-width="0.9"/>
<text x="231.6" y="511.8" font-size="7.5" text-anchor="end" fill="#2b2b2b">0</text>
<text x="231.6" y="486.02" font-size="7.5" text-anchor="end" fill="#2b2b2b">20</text>
<text x="231.6" y="460.24" font-size="7.5" text-anchor="end" fill="#2b2b2b">40</text>
<text x="231.6" y="434.46" font-size="7.5" text-anchor="end" fill="#2b2b2b">60</text>
<text x="231.6" y="408.68" font-size="7.5" text-anchor="end" fill="#2b2b2b">80</text>
<text x="231.6" y="382.9" font-size="7.5" text-anchor="end" fill="#2b2b2b">100</text>
<text x="245.98" y="520.1" font-size="7.5" text-anchor="middle" fill="#2b2b2b">50</text>
<text x="264.94" y="520.1" font-size="7.5" text-anchor="middle" fill="#2b2b2b">100</text>
<text x="283.9" y="520.1" font-size="7.5" text-anchor="middle" fill="#2b2b2b">150</text>
<text x="302.86" y="520.1" font-size="7.5" text-anchor="middle" fill="#2b2b2b">200</text>
<text x="321.82" y="520.1" font-size="7.5" text-anchor="middle" fill="#2b2b2b">250</text>
<text x="340.78" y="520.1" font-size="7.5" text-anchor="middle" fill="#2b2b2b">300</text>
<text x="359.74" y="520.1" font-size="7.5" text-anchor="middle" fill="#2b2b2b">350</text>
<text x="378.7" y="520.1" font-size="7.5" text-anchor="middle" fill="#2b2b2b">400</text>
<text x="307.55" y="533.3" font-size="7.7" text-anchor="middle" fill="#2b2b2b">Temperature, °C</text>
<text x="297.1" y="546" font-size="8.8" fill="#2b2b2b">(f)</text>
<text transform="translate(215.1 445.7) rotate(-90)" x="0" y="0" font-size="7.35" text-anchor="middle" fill="#2b2b2b">N<tspan font-size="4.2" dy="0.4">2</tspan><tspan dy="-0.4"> selectivity, %</tspan></text>
<clipPath id="cpf"><rect x="236" y="371.3" width="142.7" height="139.1"/></clipPath>
<g clip-path="url(#cpf)">
<path d="M254.96 390.32L264.44 399.22L273.92 409.4L283.4 422.16L292.88 434.41L302.36 446.39L321.32 468.05L340.28 495.12L359.24 510.2" fill="none" stroke="#3a3a3a" stroke-width="1.05" stroke-linejoin="round"/>
<rect x="253.01" y="388.37" width="3.9" height="3.9" fill="#111111"/>
<rect x="262.49" y="397.27" width="3.9" height="3.9" fill="#111111"/>
<rect x="271.97" y="407.45" width="3.9" height="3.9" fill="#111111"/>
<rect x="281.45" y="420.21" width="3.9" height="3.9" fill="#111111"/>
<rect x="290.93" y="432.46" width="3.9" height="3.9" fill="#111111"/>
<rect x="300.41" y="444.44" width="3.9" height="3.9" fill="#111111"/>
<rect x="319.37" y="466.1" width="3.9" height="3.9" fill="#111111"/>
<rect x="338.33" y="493.17" width="3.9" height="3.9" fill="#111111"/>
<rect x="357.29" y="508.25" width="3.9" height="3.9" fill="#111111"/>
<path d="M254.96 386.46L264.44 389.55L273.92 394.96L283.4 401.8L292.88 413.91L302.36 432.34L311.84 442.53L321.32 458.38L340.28 499.63L359.24 510.2L378.2 510.2" fill="none" stroke="#f25858" stroke-width="1.05" stroke-linejoin="round"/>
<circle cx="254.96" cy="386.46" r="2.1" fill="#f03c3c"/>
<circle cx="264.44" cy="389.55" r="2.1" fill="#f03c3c"/>
<circle cx="273.92" cy="394.96" r="2.1" fill="#f03c3c"/>
<circle cx="283.4" cy="401.8" r="2.1" fill="#f03c3c"/>
<circle cx="292.88" cy="413.91" r="2.1" fill="#f03c3c"/>
<circle cx="302.36" cy="432.34" r="2.1" fill="#f03c3c"/>
<circle cx="311.84" cy="442.53" r="2.1" fill="#f03c3c"/>
<circle cx="321.32" cy="458.38" r="2.1" fill="#f03c3c"/>
<circle cx="340.28" cy="499.63" r="2.1" fill="#f03c3c"/>
<circle cx="359.24" cy="510.2" r="2.1" fill="#f03c3c"/>
<circle cx="378.2" cy="510.2" r="2.1" fill="#f03c3c"/>
<path d="M254.96 384.39L264.44 389.55L273.92 403.08L283.4 416.62L302.36 438.66L311.84 448.84L321.32 468.05" fill="none" stroke="#3a7aea" stroke-width="1.05" stroke-linejoin="round"/>
<path d="M254.96 381.69L257.41 386.19L252.51 386.19Z" fill="#2a6fe8"/>
<path d="M264.44 386.85L266.89 391.35L261.99 391.35Z" fill="#2a6fe8"/>
<path d="M273.92 400.38L276.37 404.88L271.47 404.88Z" fill="#2a6fe8"/>
<path d="M283.4 413.92L285.85 418.42L280.95 418.42Z" fill="#2a6fe8"/>
<path d="M302.36 435.96L304.81 440.46L299.91 440.46Z" fill="#2a6fe8"/>
<path d="M311.84 446.14L314.29 450.64L309.39 450.64Z" fill="#2a6fe8"/>
<path d="M321.32 465.35L323.77 469.85L318.87 469.85Z" fill="#2a6fe8"/>
</g>
<path d="M332.1 386.4H347.7" stroke="#3a3a3a" stroke-width="0.9"/>
<rect x="337.65" y="384.45" width="3.9" height="3.9" fill="#111111"/>
<text x="349.1" y="388.9" font-size="7.0" fill="#2b2b2b">CeMnO<tspan font-size="4.5" dy="1.8">x</tspan></text>
<path d="M332.1 396H347.7" stroke="#f25858" stroke-width="0.9"/>
<circle cx="339.6" cy="396" r="2.1" fill="#f03c3c"/>
<text x="350.7" y="398.5" font-size="7.0" fill="#2b2b2b">Y/CeMnO<tspan font-size="4.5" dy="1.8">x</tspan></text>
<path d="M332.1 405.8H347.7" stroke="#3a7aea" stroke-width="0.9"/>
<path d="M339.6 403.1L342.05 407.6L337.15 407.6Z" fill="#2a6fe8"/>
<text x="350.7" y="408.3" font-size="7.0" fill="#2b2b2b">Y-CeMnO<tspan font-size="4.5" dy="1.8">x</tspan></text>
</svg>
</body></html>
